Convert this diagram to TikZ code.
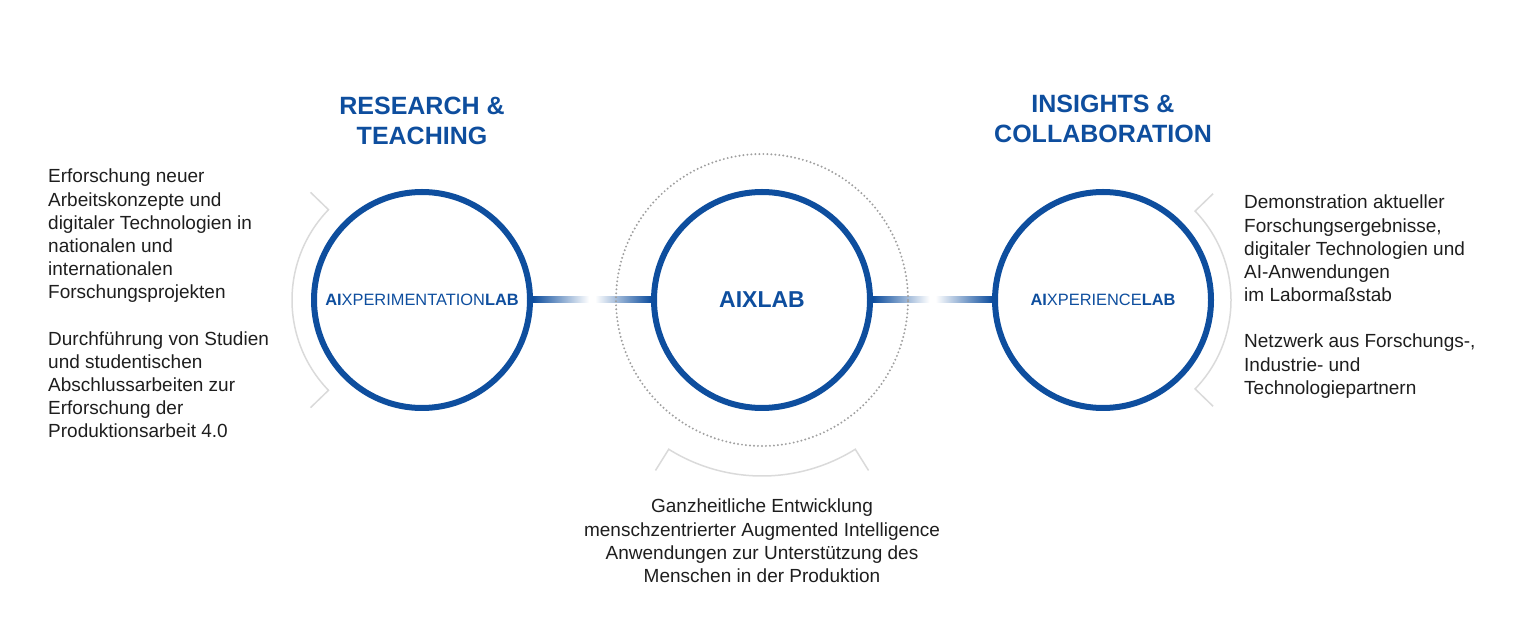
\documentclass[tikz,border=0pt]{standalone}
\usepackage{fontspec}
\setmainfont{Liberation Sans}
\usepackage{xcolor}
\usepackage{tikz}
\usetikzlibrary{positioning}
\usetikzlibrary{calc}

\definecolor{aixblue}{RGB}{14,78,158}
\definecolor{txtgray}{RGB}{30,30,30}
\definecolor{bracketgray}{RGB}{218,218,218}

\begin{document}
\begin{tikzpicture}[x=1pt,y=1pt,
        labring/.style={circle,draw=aixblue,line width=6pt,minimum size=216pt,inner sep=0pt,text=aixblue},
        heading/.style={align=center,text=aixblue,font=\fontsize{25}{30}\selectfont\bfseries,inner sep=0pt},
        bodytext/.style={text=txtgray,font=\fontsize{19}{23.2}\selectfont,inner sep=0pt},
        bracket/.style={draw=bracketgray,line width=1.5pt}]
        \useasboundingbox (0,0) rectangle (1536,637);
        \node[labring,font=\fontsize{16.4}{19}\selectfont] (exp) at (422,337) {\textbf{AI}XPERIMENTATION\textbf{LAB}};
        \node[labring,font=\fontsize{23}{27}\selectfont\bfseries] (aix) at (762,337) {AIXLAB};
        \node[labring,font=\fontsize{16.4}{19}\selectfont] (xpc) at (1103,337) {\textbf{AI}XPERIENCE\textbf{LAB}};
        \coordinate (lmid) at ($(exp.east)!0.5!(aix.west)$);
        \coordinate (rmid) at ($(aix.east)!0.5!(xpc.west)$);
        \shade[left color=aixblue,right color=white] ($(exp.east)+(0,-3)$) rectangle ($(lmid)+(-3,3)$);
        \shade[left color=white,right color=aixblue] ($(lmid)+(3,-3)$) rectangle ($(aix.west)+(0,3)$);
        \shade[left color=aixblue,right color=white] ($(aix.east)+(0,-3)$) rectangle ($(rmid)+(-3,3)$);
        \shade[left color=white,right color=aixblue] ($(rmid)+(3,-3)$) rectangle ($(xpc.west)+(0,3)$);
        \draw[gray!75,line width=2.2pt,line cap=round,dash pattern=on 0pt off 4pt] (aix.center) circle[radius=146];
        \foreach \nd/\a/\b/\r in {exp/136/224/130,xpc/44/-44/128,aix/238/302/176}
            \draw[bracket] ($(\nd)+(\a:{\r+25})$) -- ($(\nd)+(\a:\r)$) arc[start angle=\a,end angle=\b,radius=\r] -- ($(\nd)+(\b:{\r+25})$);
        \node[heading,above=44pt of exp] (rt) {RESEARCH \&\\TEACHING};
        \node[heading,above=46pt of xpc] (ic) {INSIGHTS \&\\COLLABORATION};
        \node[bodytext,align=left,anchor=north west] (ltxt) at (48,468) {Erforschung neuer\\Arbeitskonzepte und\\digitaler Technologien in\\nationalen und\\internationalen\\Forschungsprojekten\\[23pt]Durchführung von Studien\\und studentischen\\Abschlussarbeiten zur\\Erforschung der\\Produktionsarbeit 4.0};
        \node[bodytext,align=left,anchor=north west] (rtxt) at (1244,442) {Demonstration aktueller\\Forschungsergebnisse,\\digitaler Technologien und\\AI-Anwendungen\\im Labormaßstab\\[23pt]Netzwerk aus Forschungs-,\\Industrie- und\\Technologiepartnern};
        \node[bodytext,align=center,below=88pt of aix] (btxt) {Ganzheitliche Entwicklung\\menschzentrierter Augmented Intelligence\\Anwendungen zur Unterstützung des\\Menschen in der Produktion};
\end{tikzpicture}
\end{document}
